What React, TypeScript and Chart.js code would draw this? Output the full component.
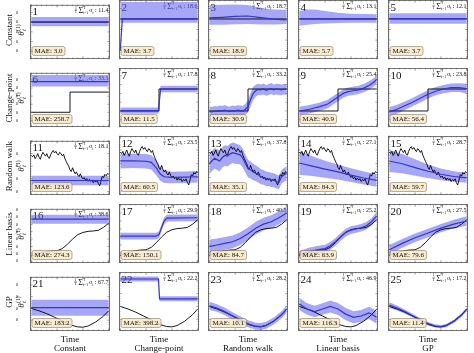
import React, { useEffect, useRef } from "react";
import { Chart, registerables } from "chart.js";
Chart.register(...registerables);

const SERIF = '"Liberation Serif", "Times New Roman", serif';
const BAND = "rgba(95, 95, 240, 0.55)";
const MEAN = "#3434c8";

// ---------- labels ----------
const rowNames = ["Constant", "Change-point", "Random walk", "Linear basis", "GP"];
const colNames = ["Constant", "Change-point", "Random walk", "Linear basis", "GP"];
const xTicks = [0, 100, 200, 300];
const yTicksR1 = [350, 400, 450, 500, 550];
const yTicksR2 = [300, 400, 500, 600, 700, 800];
const yTicksR3 = [300, 400, 500, 600];
const yTicksR4 = [200, 300, 400, 500, 600, 700, 800, 900];
const yTicksR5 = [400, 600, 800, 1000];
const sigmaAvg = [11.4, 18.6, 18.7, 13.1, 12.1, 33.3, 17.8, 33.2, 25.4, 23.8, 18.1, 23.5, 37.8, 27.1, 28.7, 38.6, 29.9, 40.5, 25.2, 27.5, 67.7, 22.2, 28.2, 46.9, 17.2];
const maeVals = ["3.0", "3.7", "18.9", "5.7", "3.7", "258.7", "11.5", "30.9", "40.9", "56.4", "123.6", "60.5", "35.1", "84.3", "59.7", "274.3", "150.1", "84.7", "63.9", "79.6", "183.2", "398.2", "10.1", "116.3", "11.4"];

// ---------- ground truth per row ----------
const truthConstT = [0, 300];
const truthConstV = [500, 500];
const truthCpT = [0, 150, 150, 300];
const truthCpV = [400, 400, 650, 650];
const truthRwT = [0, 5, 10, 15, 20, 25, 30, 35, 40, 45, 50, 55, 60, 65, 70, 75, 80, 85, 90, 95, 100, 105, 110, 115, 120, 125, 130, 135, 140, 145, 150, 155, 160, 165, 170, 175, 180, 185, 190, 195, 200, 205, 210, 215, 220, 225, 230, 235, 240, 245, 250, 255, 260, 265, 270, 275, 280, 285, 290, 295, 300];
const truthRwV = [585, 575, 590, 560, 578, 600, 572, 555, 588, 610, 595, 580, 600, 572, 562, 590, 612, 625, 605, 618, 600, 588, 610, 600, 582, 596, 562, 540, 518, 500, 472, 458, 488, 460, 440, 455, 430, 418, 440, 415, 400, 410, 390, 402, 380, 396, 380, 392, 370, 386, 375, 390, 362, 345, 380, 420, 410, 436, 425, 442, 436];
const truthLbT = [0, 20, 40, 60, 80, 100, 120, 140, 160, 180, 200, 220, 240, 260, 280, 300];
const truthLbV = [270, 295, 315, 330, 337, 340, 370, 430, 500, 560, 590, 605, 610, 620, 660, 715];
const truthGpT = [0, 30, 60, 90, 120, 150, 180, 200, 220, 250, 280, 300];
const truthGpV = [600, 560, 510, 450, 390, 320, 285, 280, 300, 370, 470, 560];

const tStep10 = [0, 10, 20, 30, 40, 50, 60, 70, 80, 90, 100, 110, 120, 130, 140, 150, 160, 170, 180, 190, 200, 210, 220, 230, 240, 250, 260, 270, 280, 290, 300];

// ---------- model posterior mean / band per panel ----------
// Row 1: constant data
const p1T = [0, 300]; const p1M = [502, 502]; const p1Lo = [479, 479]; const p1Hi = [527, 527];
const p2T = [0, 8, 300]; const p2M = [350, 500, 500]; const p2Lo = [482, 482, 482]; const p2Hi = [580, 580, 580];
const p3T = [0, 50, 100, 150, 200, 250, 300]; const p3M = [505, 508, 512, 514, 506, 499, 496];
const p3Lo = [472, 473, 475, 476, 474, 474, 476]; const p3Hi = [566, 568, 569, 566, 552, 545, 544];
const p4T = [0, 30, 60, 100, 150, 200, 300]; const p4M = [500, 500, 500, 500, 500, 500, 500];
const p4Lo = [468, 472, 476, 479, 481, 482, 482]; const p4Hi = [538, 545, 545, 538, 530, 525, 522];
const p5T = [0, 300]; const p5M = [502, 502]; const p5Lo = [477, 477]; const p5Hi = [527, 527];
// Row 2: change-point data
const p6T = [0, 300]; const p6M = [780, 780]; const p6Lo = [718, 718]; const p6Hi = [862, 862];
const p7T = [0, 148, 156, 300]; const p7M = [405, 405, 650, 650]; const p7Hw = [36, 36, 36, 36];
const p8M = [395, 390, 400, 395, 405, 400, 410, 400, 395, 405, 400, 410, 405, 400, 420, 450, 530, 600, 630, 645, 640, 650, 635, 645, 655, 640, 650, 645, 640, 650, 645];
const p8Hw = [58, 56, 57, 55, 58, 56, 57, 55, 56, 58, 57, 56, 58, 57, 60, 70, 80, 75, 68, 64, 62, 63, 61, 62, 63, 62, 61, 63, 62, 61, 62];
const p9T = [0, 40, 80, 110, 130, 150, 170, 190, 210, 230, 250, 270, 290, 300];
const p9M = [400, 420, 450, 480, 520, 560, 600, 620, 630, 640, 660, 690, 730, 760];
const p9Hw = [48, 48, 48, 48, 48, 48, 48, 48, 48, 48, 48, 48, 48, 48];
const p10T = [0, 30, 60, 90, 120, 150, 180, 210, 240, 270, 300];
const p10M = [390, 420, 460, 500, 545, 590, 625, 650, 665, 665, 655];
const p10Hw = [55, 50, 48, 47, 47, 47, 47, 47, 48, 50, 55];
// Row 3: random-walk data
const p11T = [0, 300]; const p11M = [387, 387]; const p11Hw = [38, 38];
const p12T = [0, 50, 100, 120, 140, 155, 170, 200, 250, 300];
const p12M = [520, 520, 518, 510, 470, 425, 405, 400, 402, 405];
const p12Hw = [55, 52, 52, 52, 55, 50, 45, 42, 42, 42];
const p13M = [500, 520, 540, 530, 520, 545, 560, 555, 570, 580, 575, 570, 565, 540, 500, 465, 455, 440, 430, 420, 405, 400, 390, 388, 382, 380, 370, 365, 405, 420, 430];
const p13Hw = [75, 75, 75, 75, 75, 75, 75, 75, 75, 75, 75, 72, 70, 68, 66, 64, 62, 60, 58, 56, 55, 54, 53, 52, 52, 51, 51, 50, 50, 50, 50];
const p14T = [0, 50, 100, 150, 200, 250, 300]; const p14M = [505, 482, 460, 440, 417, 396, 378];
const p14Hw = [85, 72, 62, 55, 50, 47, 45];
const p15T = [0, 50, 100, 150, 200, 250, 300]; const p15M = [520, 500, 472, 445, 423, 407, 397];
const p15Hw = [80, 70, 60, 50, 43, 38, 35];
// Row 4: linear-basis data
const p16T = [0, 300]; const p16M = [770, 770]; const p16Hw = [62, 62];
const p17T = [0, 140, 150, 160, 170, 180, 300]; const p17M = [510, 510, 530, 620, 700, 735, 740];
const p17Hw = [42, 42, 42, 42, 42, 42, 42];
const p18T = [0, 30, 60, 90, 120, 150, 180, 210, 240, 270, 300];
const p18M = [380, 400, 420, 440, 480, 540, 610, 660, 690, 740, 800];
const p18Hw = [85, 80, 80, 80, 80, 80, 80, 80, 80, 80, 85];
const p19M = [280, 300, 320, 332, 345, 355, 390, 440, 500, 555, 585, 600, 615, 640, 690, 760];
const p19Hw = [48, 48, 48, 48, 48, 48, 48, 48, 48, 48, 48, 48, 48, 48, 48, 48];
const p20T = [0, 50, 100, 150, 200, 250, 300]; const p20M = [340, 420, 490, 550, 610, 660, 700];
const p20Hw = [60, 55, 52, 52, 52, 55, 60];
// Row 5: GP data
const p21T = [0, 300]; const p21M = [612, 612]; const p21Hw = [135, 135];
const p22T = [0, 148, 152, 300]; const p22M = [1030, 1030, 720, 720]; const p22Hw = [40, 40, 40, 40];
const p23M = [610, 575, 520, 452, 392, 328, 290, 285, 305, 372, 470, 558];
const p23Hw = [65, 60, 58, 56, 55, 55, 55, 55, 55, 55, 55, 55];
const p24T = [0, 30, 60, 90, 120, 150, 180, 210, 240, 270, 300];
const p24M = [640, 560, 520, 560, 600, 560, 480, 430, 450, 500, 430];
const p24Hw = [95, 90, 90, 90, 95, 95, 95, 95, 95, 95, 100];
const p25M = [620, 575, 520, 455, 390, 330, 290, 283, 300, 365, 465, 555];
const p25Hw = [45, 38, 33, 30, 28, 27, 26, 26, 26, 26, 27, 28];

type PanelData = { t: number[]; m: number[]; hw?: number[]; lo?: number[]; hi?: number[] };
const panels: PanelData[] = [
  { t: p1T, m: p1M, lo: p1Lo, hi: p1Hi },
  { t: p2T, m: p2M, lo: p2Lo, hi: p2Hi },
  { t: p3T, m: p3M, lo: p3Lo, hi: p3Hi },
  { t: p4T, m: p4M, lo: p4Lo, hi: p4Hi },
  { t: p5T, m: p5M, lo: p5Lo, hi: p5Hi },
  { t: p6T, m: p6M, lo: p6Lo, hi: p6Hi },
  { t: p7T, m: p7M, hw: p7Hw },
  { t: tStep10, m: p8M, hw: p8Hw },
  { t: p9T, m: p9M, hw: p9Hw },
  { t: p10T, m: p10M, hw: p10Hw },
  { t: p11T, m: p11M, hw: p11Hw },
  { t: p12T, m: p12M, hw: p12Hw },
  { t: tStep10, m: p13M, hw: p13Hw },
  { t: p14T, m: p14M, hw: p14Hw },
  { t: p15T, m: p15M, hw: p15Hw },
  { t: p16T, m: p16M, hw: p16Hw },
  { t: p17T, m: p17M, hw: p17Hw },
  { t: p18T, m: p18M, hw: p18Hw },
  { t: truthLbT, m: p19M, hw: p19Hw },
  { t: p20T, m: p20M, hw: p20Hw },
  { t: p21T, m: p21M, hw: p21Hw },
  { t: p22T, m: p22M, hw: p22Hw },
  { t: truthGpT, m: p23M, hw: p23Hw },
  { t: p24T, m: p24M, hw: p24Hw },
  { t: truthGpT, m: p25M, hw: p25Hw },
];

const rowTruth = [
  { t: truthConstT, v: truthConstV },
  { t: truthCpT, v: truthCpV },
  { t: truthRwT, v: truthRwV },
  { t: truthLbT, v: truthLbV },
  { t: truthGpT, v: truthGpV },
];
const rowY = [
  { min: 310, max: 590, ticks: yTicksR1 },
  { min: 218, max: 889, ticks: yTicksR2 },
  { min: 272, max: 702, ticks: yTicksR3 },
  { min: 175, max: 912, ticks: yTicksR4 },
  { min: 215, max: 1140, ticks: yTicksR5 },
];

// ---------- layout ----------
const colLeft = [30, 119, 208, 298, 388];
const rowTop = [0, 68, 136, 204, 272];
const PW = 80, PH = 59, TP = 2, RP = 8, XH = 8;

function pts(t: number[], v: number[]) {
  return t.map((x, i) => ({ x, y: v[i] }));
}

function drawFormula(ctx: CanvasRenderingContext2D, right: number, base: number, val: number) {
  const f = (s: number) => `${s}px ${SERIF}`;
  const tail = ` : ${val.toFixed(1)}`;
  ctx.font = f(6); const wTail = ctx.measureText(tail).width; const wSig = ctx.measureText("σ").width;
  ctx.font = f(3.8); const wSubT = ctx.measureText("t").width; const wLim = ctx.measureText("t=1").width; const wFr = ctx.measureText("T").width;
  ctx.font = f(8); const wSum = ctx.measureText("Σ").width;
  const total = wFr + 1.5 + wSum + wLim + 1 + wSig + wSubT + wTail;
  let x = right - total;
  ctx.fillStyle = "#111";
  ctx.textAlign = "left";
  ctx.textBaseline = "alphabetic";
  // fraction 1/T
  ctx.font = f(3.8);
  ctx.fillText("1", x + 0.3, base - 3.2);
  ctx.fillRect(x, base - 2.6, wFr, 0.4);
  ctx.fillText("T", x, base + 1.2);
  x += wFr + 1.5;
  ctx.font = f(8);
  ctx.fillText("Σ", x, base + 1);
  x += wSum;
  ctx.font = f(3.8);
  ctx.fillText("T", x, base - 3.5);
  ctx.fillText("t=1", x, base + 2.2);
  x += wLim + 1;
  ctx.font = f(6);
  ctx.fillText("σ", x, base);
  x += wSig;
  ctx.font = f(3.8);
  ctx.fillText("t", x, base + 1.4);
  x += wSubT;
  ctx.font = f(6);
  ctx.fillText(tail, x, base);
}

function Panel({ idx }: { idx: number }) {
  const r = Math.floor(idx / 5);
  const c = idx % 5;
  const YW = c === 0 ? 14 : 2;
  const w = YW + PW + RP;
  const h = TP + PH + XH;
  const ref = useRef<HTMLCanvasElement>(null);

  useEffect(() => {
    const p = panels[idx];
    const tr = rowTruth[r];
    const ry = rowY[r];
    const lo = p.lo ?? p.m.map((v, i) => v - (p.hw as number[])[i]);
    const hi = p.hi ?? p.m.map((v, i) => v + (p.hw as number[])[i]);
    const yStep = ry.ticks[1] - ry.ticks[0];

    const deco = {
      id: "deco",
      beforeDatasetsDraw(chart: any) {
        const { ctx, chartArea: a } = chart;
        ctx.save();
        ctx.fillStyle = "#111";
        ctx.font = `11px ${SERIF}`;
        ctx.textAlign = "left";
        ctx.textBaseline = "alphabetic";
        ctx.fillText(String(idx + 1), a.left + 2.5, a.top + 10.5);
        drawFormula(ctx, a.right - 1.5, a.top + 7.5, sigmaAvg[idx]);
        ctx.restore();
      },
      afterDatasetsDraw(chart: any) {
        const { ctx, chartArea: a } = chart;
        ctx.save();
        ctx.font = `7px ${SERIF}`;
        const txt = `MAE: ${maeVals[idx]}`;
        const tw = ctx.measureText(txt).width;
        const bx = a.left + 2, by = a.bottom - 12.5, bw = tw + 5, bh = 9;
        ctx.beginPath();
        ctx.roundRect(bx, by, bw, bh, 2);
        ctx.fillStyle = "rgba(247, 232, 200, 0.85)";
        ctx.fill();
        ctx.lineWidth = 0.7;
        ctx.strokeStyle = "rgba(110, 95, 70, 0.7)";
        ctx.stroke();
        ctx.fillStyle = "#111";
        ctx.textBaseline = "middle";
        ctx.fillText(txt, bx + 2.5, by + bh / 2 + 0.5);
        ctx.restore();
      },
      afterDraw(chart: any) {
        const { ctx, chartArea: a, scales } = chart;
        ctx.save();
        ctx.strokeStyle = "#555";
        ctx.lineWidth = 0.8;
        ctx.strokeRect(a.left + 0.5, a.top + 0.5, a.right - a.left - 1, a.bottom - a.top - 1);
        ctx.lineWidth = 0.6;
        ctx.beginPath();
        for (let v = 0; v <= 300; v += 20) {
          const px = scales.x.getPixelForValue(v);
          const len = v % 100 === 0 ? 2.6 : 1.4;
          ctx.moveTo(px, a.bottom); ctx.lineTo(px, a.bottom - len);
          ctx.moveTo(px, a.top); ctx.lineTo(px, a.top + len);
        }
        const minor = yStep / 5;
        for (let v = Math.ceil(ry.min / minor) * minor; v <= ry.max; v += minor) {
          const py = scales.y.getPixelForValue(v);
          const len = Math.abs(v % yStep) < 1e-6 ? 2.6 : 1.4;
          ctx.moveTo(a.left, py); ctx.lineTo(a.left + len, py);
          ctx.moveTo(a.right, py); ctx.lineTo(a.right - len, py);
        }
        ctx.stroke();
        ctx.restore();
      },
    };

    const tickFont = { family: SERIF, size: 4.6 };
    const chart = new Chart(ref.current as HTMLCanvasElement, {
      type: "line",
      data: {
        datasets: [
          { data: pts(p.t, lo), borderWidth: 0, pointRadius: 0, fill: false, order: 3, borderColor: "transparent" },
          { data: pts(p.t, hi), borderWidth: 0, pointRadius: 0, fill: "-1", backgroundColor: BAND, order: 2, borderColor: "transparent" },
          { data: pts(tr.t, tr.v), borderWidth: 0.9, pointRadius: 0, borderColor: "#000", fill: false, order: 1 },
          { data: pts(p.t, p.m), borderWidth: 1.2, pointRadius: 0, borderColor: MEAN, fill: false, order: 0 },
        ],
      } as any,
      options: {
        animation: false,
        responsive: false,
        maintainAspectRatio: false,
        events: [],
        layout: { autoPadding: false, padding: { left: 0, right: RP, top: TP, bottom: 0 } },
        plugins: { legend: { display: false }, tooltip: { enabled: false } },
        elements: { line: { tension: 0 } },
        scales: {
          x: {
            type: "linear",
            min: -5,
            max: 305,
            afterBuildTicks: (s: any) => { s.ticks = xTicks.map((v) => ({ value: v })); },
            afterFit: (s: any) => { s.height = XH; },
            grid: { display: false },
            border: { display: false },
            ticks: { font: tickFont, color: "#222", padding: 1.2, maxRotation: 0, autoSkip: false },
          },
          y: {
            type: "linear",
            min: ry.min,
            max: ry.max,
            afterBuildTicks: (s: any) => { s.ticks = ry.ticks.map((v) => ({ value: v })); },
            afterFit: (s: any) => { s.width = YW; },
            grid: { display: false },
            border: { display: false },
            ticks: { display: c === 0, font: tickFont, color: "#222", padding: 4, autoSkip: false },
          },
        },
      } as any,
      plugins: [deco],
    });
    return () => chart.destroy();
  }, [idx]);

  return (
    <canvas
      ref={ref}
      width={w}
      height={h}
      style={{ position: "absolute", left: colLeft[c] - YW, top: rowTop[r] - TP, width: w, height: h }}
    />
  );
}

export default function App() {
  const lbl: React.CSSProperties = { position: "absolute", whiteSpace: "nowrap", fontFamily: SERIF, fontSize: 9, color: "#111", lineHeight: 1 };
  return (
    <div style={{ position: "absolute", left: 0, top: 0, width: 474, height: 353, overflow: "hidden", background: "#fff" }}>
      {panels.map((_, i) => (
        <Panel key={i} idx={i} />
      ))}
      {rowNames.map((n, r) => (
        <React.Fragment key={"r" + r}>
          <div style={{ ...lbl, left: 9, top: rowTop[r] + PH / 2, transform: "translate(-50%, -50%) rotate(-90deg)" }}>{n}</div>
          <div style={{ ...lbl, left: 21, top: rowTop[r] + PH / 2, transform: "translate(-50%, -50%) rotate(-90deg)" }}>
            <span style={{ display: "inline-flex", alignItems: "center" }}>
              <span style={{ fontStyle: "italic" }}>θ</span>
              <span style={{ display: "inline-flex", flexDirection: "column", fontSize: 5.5, lineHeight: 1, marginLeft: 0.5 }}>
                <span>(1)</span>
                <span style={{ fontStyle: "italic" }}>t</span>
              </span>
            </span>
          </div>
        </React.Fragment>
      ))}
      {colNames.map((n, c) => (
        <React.Fragment key={"c" + c}>
          <div style={{ ...lbl, left: colLeft[c] + PW / 2, top: 339, transform: "translate(-50%, -50%)" }}>Time</div>
          <div style={{ ...lbl, left: colLeft[c] + PW / 2, top: 348, transform: "translate(-50%, -50%)" }}>{n}</div>
        </React.Fragment>
      ))}
    </div>
  );
}
